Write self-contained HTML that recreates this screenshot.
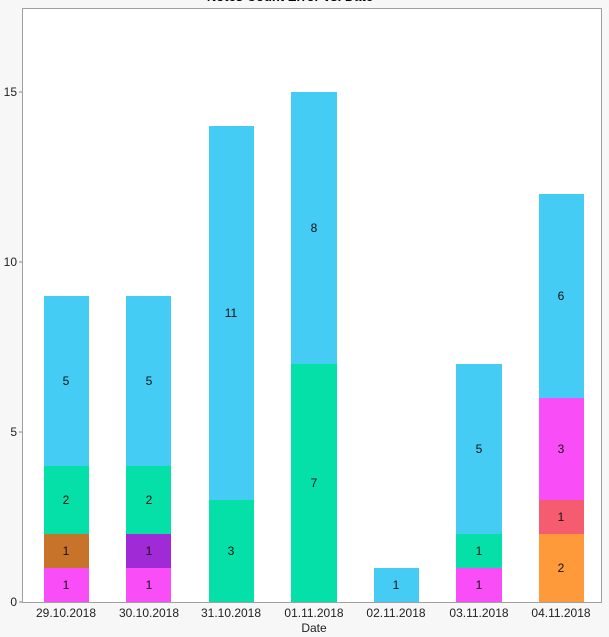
<!DOCTYPE html>
<html><head><style>
body{margin:0;background:#f7f7f7;}
svg{display:block;font-family:"Liberation Sans",sans-serif;}
</style></head><body>
<svg width="609" height="637" viewBox="0 0 609 637">
<rect width="609" height="637" fill="#f7f7f7"/>
<text x="290" y="1" text-anchor="middle" font-size="13" font-weight="bold" fill="#000">Notes Count Error vs. Date</text>
<rect x="22.5" y="8.5" width="579" height="594" fill="#fff" stroke="#a0a0a0"/>
<g font-size="12" fill="#222" text-anchor="end">
<text x="17" y="606">0</text><text x="17" y="436">5</text><text x="17" y="266">10</text><text x="17" y="96">15</text>
</g>
<g stroke="#888"><line x1="19" x2="22" y1="602" y2="602"/><line x1="19" x2="22" y1="432" y2="432"/><line x1="19" x2="22" y1="262" y2="262"/><line x1="19" x2="22" y1="92" y2="92"/></g>
<g>
<!-- 29.10 -->
<rect x="44" y="568" width="45" height="34" fill="#f94ef7"/>
<rect x="44" y="534" width="45" height="34" fill="#c8732a"/>
<rect x="44" y="466" width="45" height="68" fill="#05e0a8"/>
<rect x="44" y="296" width="45" height="170" fill="#44ccf5"/>
<!-- 30.10 -->
<rect x="126" y="568" width="45" height="34" fill="#f94ef7"/>
<rect x="126" y="534" width="45" height="34" fill="#a02bd6"/>
<rect x="126" y="466" width="45" height="68" fill="#05e0a8"/>
<rect x="126" y="296" width="45" height="170" fill="#44ccf5"/>
<!-- 31.10 -->
<rect x="209" y="500" width="45" height="102" fill="#05e0a8"/>
<rect x="209" y="126" width="45" height="374" fill="#44ccf5"/>
<!-- 01.11 -->
<rect x="291" y="364" width="46" height="238" fill="#05e0a8"/>
<rect x="291" y="92" width="46" height="272" fill="#44ccf5"/>
<!-- 02.11 -->
<rect x="374" y="568" width="45" height="34" fill="#44ccf5"/>
<!-- 03.11 -->
<rect x="456" y="568" width="46" height="34" fill="#f94ef7"/>
<rect x="456" y="534" width="46" height="34" fill="#05e0a8"/>
<rect x="456" y="364" width="46" height="170" fill="#44ccf5"/>
<!-- 04.11 -->
<rect x="539" y="534" width="45" height="68" fill="#ff9a3a"/>
<rect x="539" y="500" width="45" height="34" fill="#f55c70"/>
<rect x="539" y="398" width="45" height="102" fill="#f94ef7"/>
<rect x="539" y="194" width="45" height="204" fill="#44ccf5"/>
</g>
<g font-size="12" fill="#111" text-anchor="middle">
<text x="66" y="589">1</text><text x="66" y="555">1</text><text x="66" y="504">2</text><text x="66" y="385">5</text>
<text x="149" y="589">1</text><text x="149" y="555">1</text><text x="149" y="504">2</text><text x="149" y="385">5</text>
<text x="231" y="555">3</text><text x="231" y="317">11</text>
<text x="314" y="487">7</text><text x="314" y="232">8</text>
<text x="396" y="589">1</text>
<text x="479" y="589">1</text><text x="479" y="555">1</text><text x="479" y="453">5</text>
<text x="561" y="572">2</text><text x="561" y="521">1</text><text x="561" y="453">3</text><text x="561" y="300">6</text>
</g>
<g font-size="12" fill="#222" text-anchor="middle">
<text x="66" y="617">29.10.2018</text><text x="149" y="617">30.10.2018</text><text x="231" y="617">31.10.2018</text><text x="314" y="617">01.11.2018</text><text x="396" y="617">02.11.2018</text><text x="479" y="617">03.11.2018</text><text x="561" y="617">04.11.2018</text>
<text x="314" y="632">Date</text>
</g>
</svg>
</body></html>
